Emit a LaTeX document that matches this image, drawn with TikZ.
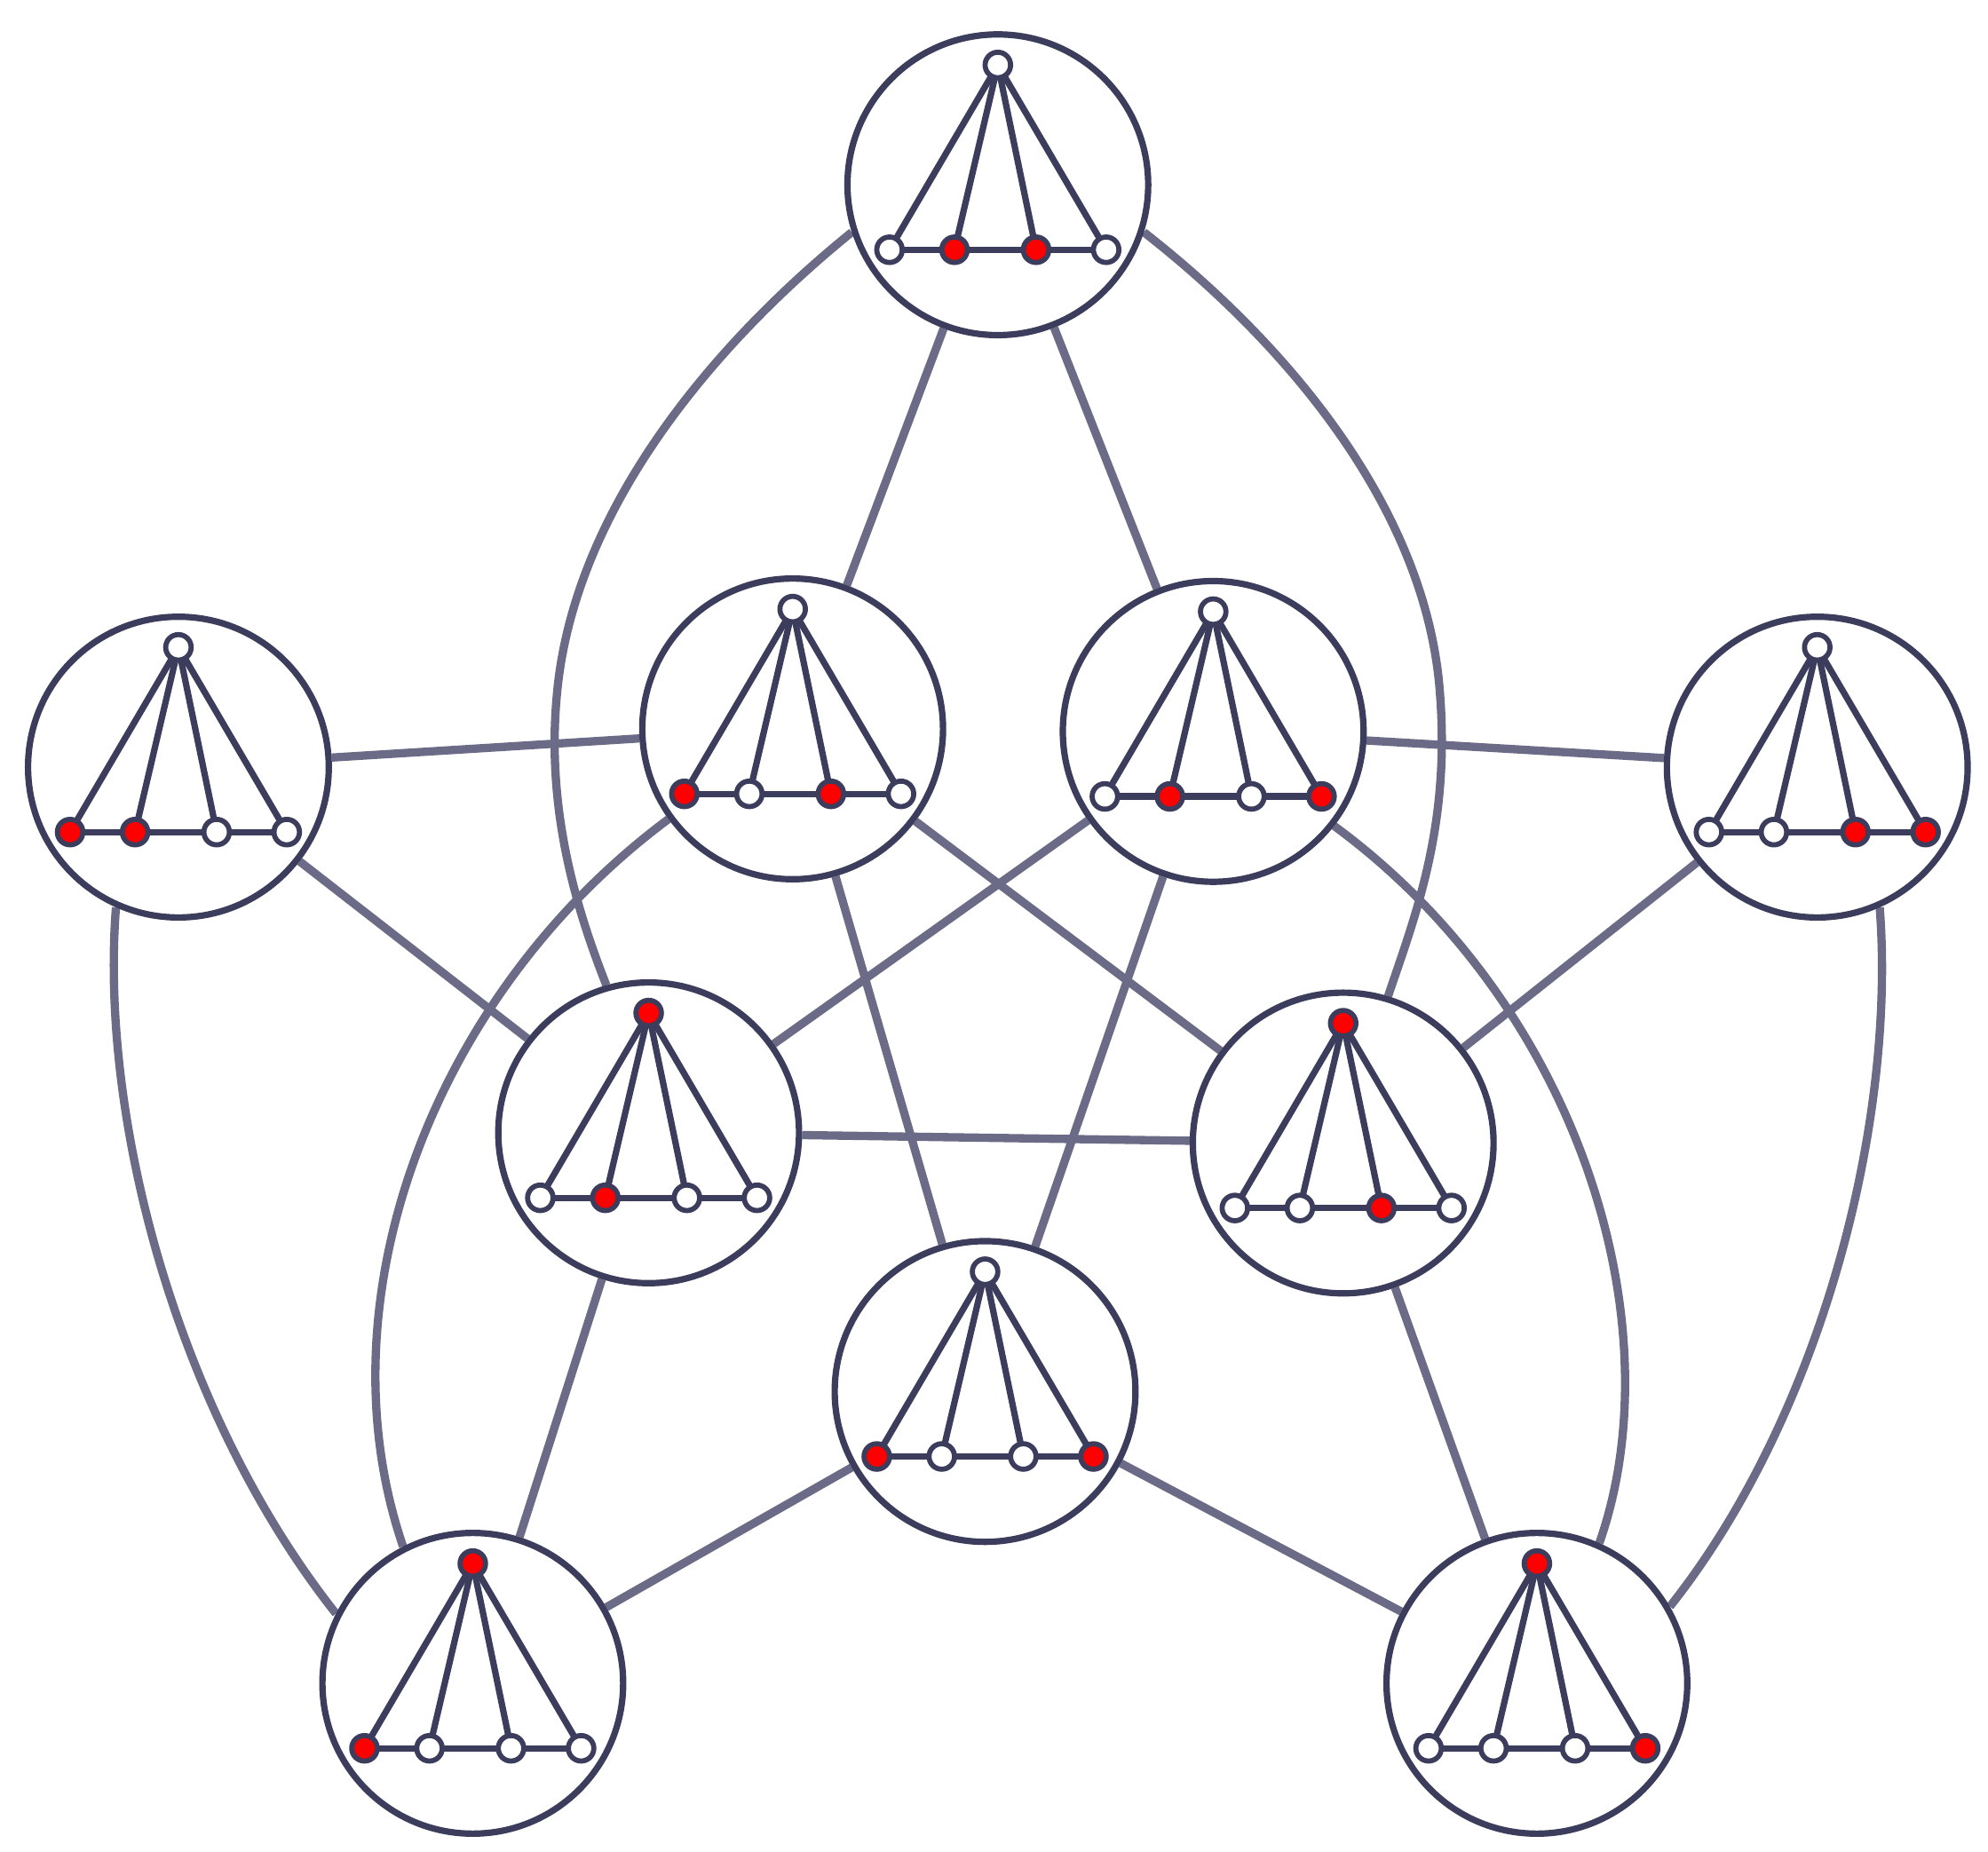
\documentclass[tikz,border=0pt]{standalone}
\begin{document}
\begin{tikzpicture}[x=1pt,y=-1pt,
  big/.style={circle,draw=navy,line width=5pt,fill=white,minimum size=236pt,inner sep=0pt},
  link/.style={draw=edgec,line width=6.5pt},
  inner/.style={draw=navy,line width=5pt},
  dot/.style={circle,draw=navy,line width=4pt,minimum size=20pt,inner sep=0pt}]
\definecolor{navy}{HTML}{3C3C5C}
\definecolor{edgec}{HTML}{6B6B87}
\definecolor{rd}{HTML}{FF0000}
\useasboundingbox (0,0) rectangle (1560,1453);
\newcommand\motif[8]{%
  \node[big] (#1) at (#2,#3) {};
  \foreach \dx in {-85,-34,30,85} \draw[inner] (#2,#3-94) -- (#2+\dx,#3+51);
  \draw[inner] (#2-85,#3+51) -- (#2+85,#3+51);
  \node[dot,fill=#4] at (#2,#3-94) {};
  \node[dot,fill=#5] at (#2-85,#3+51) {};
  \node[dot,fill=#6] at (#2-34,#3+51) {};
  \node[dot,fill=#7] at (#2+30,#3+51) {};
  \node[dot,fill=#8] at (#2+85,#3+51) {};
}
\begin{scope}
\node[big,draw=none,fill=none] (A) at (783,145) {};
\node[big,draw=none,fill=none] (B) at (622,572) {};
\node[big,draw=none,fill=none] (C) at (952,574) {};
\node[big,draw=none,fill=none] (D) at (140,602) {};
\node[big,draw=none,fill=none] (E) at (1426,602) {};
\node[big,draw=none,fill=none] (F) at (509,889) {};
\node[big,draw=none,fill=none] (G) at (1054,897) {};
\node[big,draw=none,fill=none] (H) at (773,1092) {};
\node[big,draw=none,fill=none] (I) at (371,1321) {};
\node[big,draw=none,fill=none] (J) at (1206,1321) {};
\end{scope}
\draw[link] (A)--(B) (A)--(C) (D)--(B) (D)--(F) (E)--(C) (E)--(G)
 (B)--(G) (B)--(H) (C)--(F) (C)--(H) (F)--(G) (F)--(I) (G)--(J) (H)--(I) (H)--(J);
\draw[link] (A.198) .. controls (560,270) and (450,400) .. (437,545) .. controls (428,640) and (455,720) .. (F.106);
\draw[link] (A.342) .. controls (1010,270) and (1120,400) .. (1130,545) .. controls (1138,650) and (1110,720) .. (G.73);
\draw[link] (D.246) .. controls (78,880) and (140,1110) .. (I.153);
\draw[link] (E.294) .. controls (1488,880) and (1430,1110) .. (J.30);
\draw[link] (B.216) .. controls (340,780) and (250,1020) .. (I.117);
\draw[link] (C.322) .. controls (1240,790) and (1315,1040) .. (J.66);
\motif{A}{783}{145}{white}{white}{rd}{rd}{white}
\motif{B}{622}{572}{white}{rd}{white}{rd}{white}
\motif{C}{952}{574}{white}{white}{rd}{white}{rd}
\motif{D}{140}{602}{white}{rd}{rd}{white}{white}
\motif{E}{1426}{602}{white}{white}{white}{rd}{rd}
\motif{F}{509}{889}{rd}{white}{rd}{white}{white}
\motif{G}{1054}{897}{rd}{white}{white}{rd}{white}
\motif{H}{773}{1092}{white}{rd}{white}{white}{rd}
\motif{I}{371}{1321}{rd}{rd}{white}{white}{white}
\motif{J}{1206}{1321}{rd}{white}{white}{white}{rd}
\end{tikzpicture}
\end{document}
